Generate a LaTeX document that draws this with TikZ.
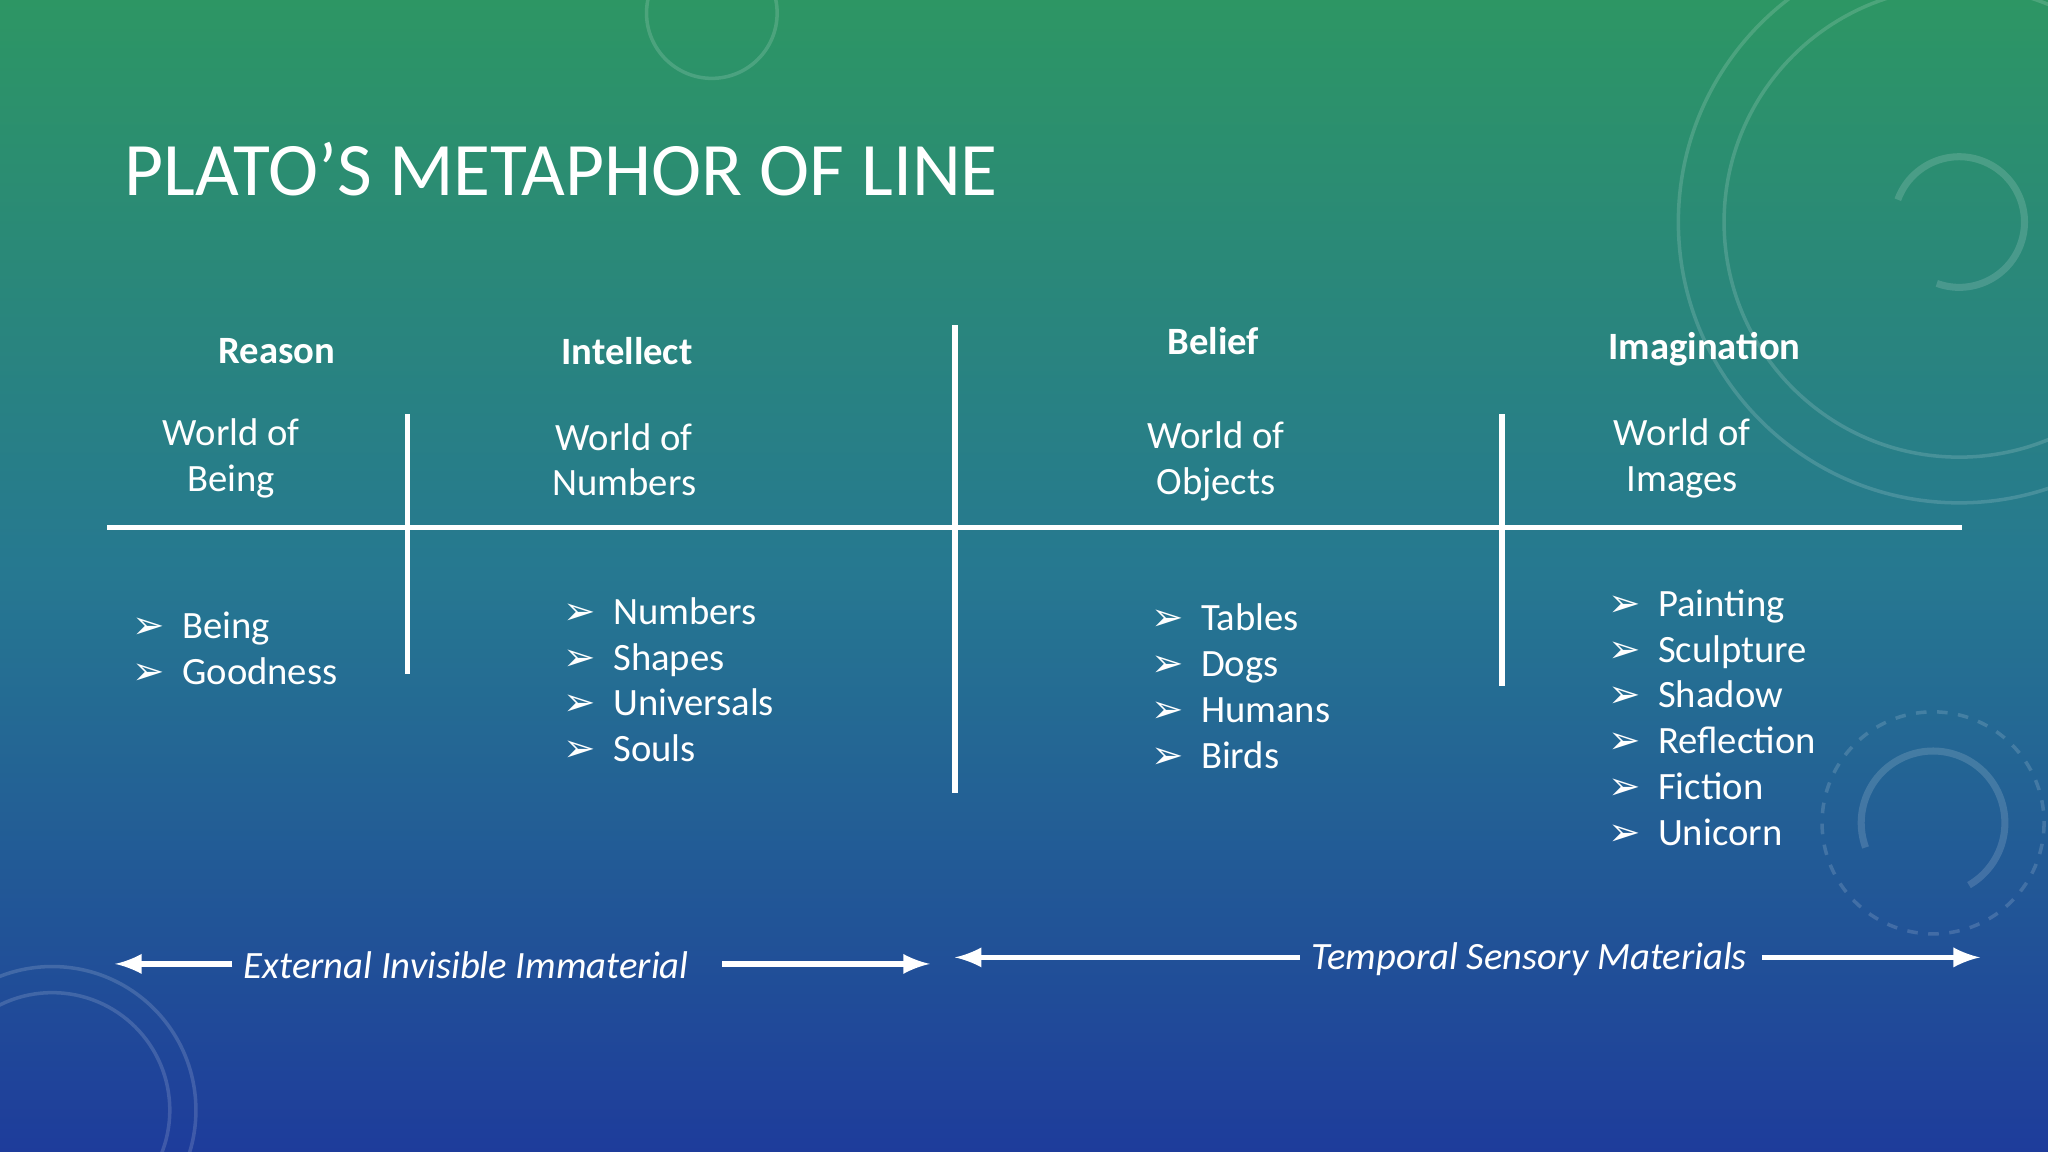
\documentclass[tikz,border=0pt]{standalone}
\usepackage{fontspec}
\setmainfont{Carlito}
\newfontfamily\dejavu{DejaVu Sans}
\begin{document}
\begin{tikzpicture}[x=0.01306cm,y=-0.01306cm,
  txt/.style={text=white,font=\fontsize{11}{13}\selectfont,inner sep=0pt},
  head/.style={txt,font=\fontsize{11}{13}\selectfont\bfseries},
  mid/.style={txt,align=center},
  bul/.style={txt,anchor=base west},
  ln/.style={white,line width=1.6pt},
  arr/.style={white,line width=1.6pt,-latex},
  deco/.style={white,opacity=0.15,line width=1pt}]
\shade[top color={rgb,255:red,45;green,150;blue,100}, bottom color={rgb,255:red,30;green,60;blue,155}, middle color={rgb,255:red,38;green,120;blue,145}] (0,0) rectangle (1568,882);
\useasboundingbox (0,0) rectangle (1568,882);
% decorations
\draw[deco] (1500,170) circle (215);
\draw[deco] (1500,170) circle (180);
\draw[deco,line width=2pt] (1500,170) ++(200:50) arc (200:470:50);
\draw[deco] (40,850) circle (90);
\draw[deco] (40,850) circle (110);
\draw[deco,line width=2pt] (1480,630) ++(160:55) arc (160:420:55);
\draw[deco,dashed] (1480,630) circle (85);
\draw[deco] (545,10) circle (50);
% title
\node[txt,anchor=base west,font=\fontsize{21.5}{22}\selectfont] (title) at (95,150) {PLATO’S METAPHOR OF LINE};
% lines
\coordinate (hl) at (82,404); \coordinate (hr) at (1502,404);
\draw[ln] (hl) -- (hr);
\coordinate (v1t) at (312,317); \coordinate (v1b) at (312,516);
\coordinate (v2t) at (731,249); \coordinate (v2b) at (731,607);
\coordinate (v3t) at (1150,317); \coordinate (v3b) at (1150,525);
\draw[ln] (v1t) -- (v1b); \draw[ln] (v2t) -- (v2b); \draw[ln] (v3t) -- (v3b);
% headings
\node[head] (h1) at (212,269) {Reason};
\node[head] (h2) at (480,269) {Intellect};
\node[head] (h3) at (929,261) {Belief};
\node[head] (h4) at (1305,267) {Imagination};
\node[mid] (w1) at (177,351) {World of\\Being};
\node[mid] (w2) at (478,352) {World of\\Numbers};
\node[mid] (w3) at (931,353) {World of\\Objects};
\node[mid] (w4) at (1288,351) {World of\\Images};
% bullets
\newcommand{\bl}[4]{\foreach \t [count=\i from 0] in {#4} {
  \node[bul] (b#1\i) at (#2,#3+35*\i+11) {\makebox[0pt][r]{\dejavu\fontsize{11}{11}\selectfont ➢\hspace{5pt}}\t};}}
\bl{a}{139}{478}{Being,Goodness}
\bl{b}{469}{467}{Numbers,Shapes,Universals,Souls}
\bl{c}{919}{472}{Tables,Dogs,Humans,Birds}
\bl{d}{1269}{461}{Painting,Sculpture,Shadow,Reflection,Fiction,Unicorn}
% bottom
\node[txt,font=\fontsize{11}{13}\selectfont\itshape] (e) at (357,739) {External Invisible Immaterial};
\node[txt,font=\fontsize{11}{13}\selectfont\itshape] (t) at (1171,734) {Temporal Sensory Materials};
\coordinate (a1s) at (178,738); \coordinate (a1e) at (88,738);
\coordinate (a2s) at (553,738); \coordinate (a2e) at (712,738);
\coordinate (a3s) at (995,733); \coordinate (a3e) at (731,733);
\coordinate (a4s) at (1349,733); \coordinate (a4e) at (1516,733);
\draw[arr] (a1s) -- (a1e); \draw[arr] (a2s) -- (a2e);
\draw[arr] (a3s) -- (a3e); \draw[arr] (a4s) -- (a4e);
\end{tikzpicture}
\end{document}
